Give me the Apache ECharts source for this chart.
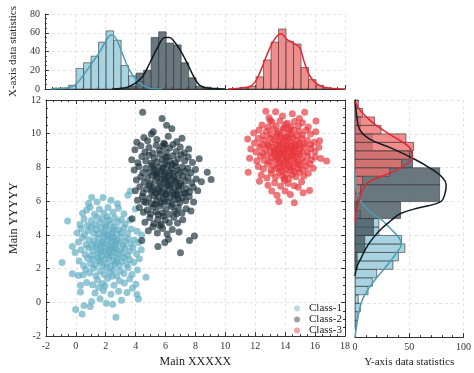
<!DOCTYPE html>
<html>
<head>
<meta charset="utf-8">
<script src="https://cdn.jsdelivr.net/npm/echarts@6/dist/echarts.min.js"></script>
<style>
  html, body { margin: 0; padding: 0; background: #fff; }
  #chart { width: 474px; height: 373px; }
</style>
</head>
<body>
<div id="chart"></div>
<script>
const classNames = ['Class-1', 'Class-2', 'Class-3'];

// scatter points [x, y]
const class1Points = [
  [-0.01,-0.43],[0.42,-0.69],[2.68,-0.88],[2.47,-0.11],[2.04,-0.05],[0.96,-0.24],[1.06,0.05],[0.55,-0.18],[1.62,0.22],[3.05,0.12],[4.19,0.2],
  [4.09,0.47],[0.31,0.62],[1.28,0.55],[1.85,0.71],[2.35,0.48],[2.86,0.66],[3.42,0.58],[3.78,0.83],[1.52,0.88],
  [0.31,1.01],[0.72,1.18],[1.12,1.05],[1.45,1.32],[1.78,1.12],[2.12,1.41],[2.55,1.02],[2.92,1.28],[3.25,1.15],[3.61,1.38],[4.02,1.07],[4.69,1.49],[1.95,0.98],
  [-0.23,1.69],[0.16,1.59],[0.48,1.62],[0.66,1.95],[0.92,1.74],[1.18,2.02],[1.35,1.58],[1.62,1.86],[1.88,1.65],[2.05,2.04],[2.28,1.77],[2.52,1.92],[2.74,1.56],[2.98,1.88],[3.22,1.71],[3.48,2.05],[3.75,1.66],[4.12,1.92],[2.42,1.55],
  [-0.92,2.36],[0.22,2.45],[0.52,2.18],[0.78,2.62],[0.98,2.31],[1.15,2.55],[1.32,2.22],[1.48,2.66],[1.65,2.38],[1.82,2.15],[1.94,2.58],[2.08,2.33],[2.22,2.68],[2.36,2.12],[2.48,2.47],[2.62,2.29],[2.78,2.61],[2.91,2.18],[3.08,2.44],[3.25,2.65],[3.41,2.25],[3.62,2.52],[3.88,2.36],[4.25,2.58],[1.58,2.48],[2.72,2.42],
  [-0.05,2.95],[0.35,3.12],[0.62,2.84],[0.85,3.22],[1.02,2.78],[1.18,3.05],[1.35,3.28],[1.46,2.88],[1.61,3.14],[1.75,2.75],[1.88,3.02],[1.98,3.25],[2.12,2.86],[2.25,3.11],[2.38,2.77],[2.45,3.29],[2.58,2.95],[2.7,3.18],[2.84,2.82],[2.96,3.08],[3.12,2.91],[3.28,3.22],[3.45,2.79],[3.6,3.05],[3.82,3.26],[4.05,2.88],[4.38,3.12],[2.18,3.02],[1.68,2.98],[2.52,3.15],
  [-0.23,3.32],[0.18,3.58],[0.45,3.85],[0.68,3.42],[0.88,3.71],[1.05,3.38],[1.22,3.66],[1.38,3.45],[1.52,3.82],[1.66,3.36],[1.8,3.61],[1.92,3.88],[2.02,3.45],[2.15,3.72],[2.28,3.35],[2.4,3.58],[2.53,3.84],[2.65,3.41],[2.77,3.68],[2.9,3.52],[3.05,3.86],[3.18,3.39],[3.32,3.62],[3.5,3.78],[3.68,3.46],[3.92,3.7],[4.2,3.55],[2.35,3.88],[1.72,3.52],[2.6,3.62],
  [0.08,4.12],[0.35,4.38],[0.58,4.02],[0.82,4.25],[1.02,4.46],[1.2,4.08],[1.36,4.32],[1.52,4.05],[1.68,4.41],[1.85,4.18],[2.0,4.48],[2.12,3.98],[2.26,4.28],[2.42,4.12],[2.58,4.45],[2.72,4.02],[2.88,4.3],[3.05,4.15],[3.22,4.42],[3.45,4.08],[3.7,4.35],[4.41,4.0],[4.1,4.22],[1.95,4.05],[2.5,4.3],
  [-0.55,4.83],[0.28,4.62],[0.55,4.95],[0.78,4.58],[1.05,4.85],[1.28,4.62],[1.45,5.05],[1.62,4.72],[1.8,4.95],[2.02,4.6],[2.2,4.88],[2.38,4.68],[2.6,5.02],[2.82,4.75],[3.05,4.92],[3.3,4.64],[3.62,4.88],[2.1,5.08],
  [0.96,5.64],[0.45,5.28],[0.72,5.48],[1.25,5.22],[1.58,5.52],[1.88,5.3],[2.15,5.62],[2.48,5.35],[2.85,5.58],[3.22,5.25],[3.98,5.54],
  [0.85,5.87],[1.06,6.22],[1.82,6.22],[1.42,5.95],[2.35,6.05],[2.78,5.85],
  [3.65,6.6],[3.48,6.35]
];
const class2Points = [
  [4.47,11.27],[5.77,10.9],[6.07,10.5],[6.42,10.3],[5.18,10.12],
  [4.08,9.49],[4.8,9.59],[7.1,9.73],[5.42,9.66],[6.18,9.85],[5.88,9.44],[6.75,9.52],[4.55,9.78],[5.05,9.98],
  [3.95,9.05],[4.35,9.28],[4.62,8.92],[4.9,9.18],[5.15,8.85],[5.38,9.32],[5.6,9.02],[5.82,9.25],[6.05,8.88],[6.28,9.15],[6.5,9.36],[6.72,8.95],[6.98,9.22],[7.25,8.86],[7.55,9.1],[5.95,9.38],
  [3.74,8.45],[4.15,8.28],[4.42,8.65],[4.68,8.38],[4.88,8.72],[5.05,8.25],[5.25,8.55],[5.45,8.32],[5.62,8.78],[5.78,8.45],[5.95,8.22],[6.1,8.62],[6.3,8.35],[6.48,8.7],[6.65,8.28],[6.85,8.52],[7.05,8.75],[7.28,8.4],[7.52,8.62],[7.8,8.3],[8.25,8.51],[6.0,8.58],
  [3.9,7.85],[4.22,8.05],[4.48,7.68],[4.7,7.95],[4.92,7.72],[5.1,8.12],[5.28,7.82],[5.42,7.62],[5.55,8.02],[5.7,7.75],[5.85,7.98],[5.98,7.65],[6.12,8.15],[6.25,7.78],[6.38,7.92],[6.52,7.66],[6.68,8.08],[6.82,7.82],[6.95,7.7],[7.12,8.02],[7.3,7.76],[7.48,7.95],[7.7,7.68],[8.0,7.88],[8.79,7.72],[5.2,7.95],[6.45,8.18],[5.78,7.88],
  [4.05,7.25],[4.35,7.45],[4.58,7.12],[4.8,7.38],[4.98,7.05],[5.12,7.52],[5.3,7.22],[5.46,7.42],[5.6,7.08],[5.72,7.32],[5.88,7.55],[6.0,7.15],[6.15,7.38],[6.28,7.02],[6.42,7.28],[6.55,7.5],[6.7,7.12],[6.85,7.35],[7.0,7.05],[7.15,7.48],[7.32,7.18],[7.5,7.4],[7.75,7.1],[8.05,7.32],[8.4,7.15],[9.05,7.28],[5.35,7.58],[6.62,7.22],[5.95,7.3],[6.2,7.52],
  [3.98,6.62],[4.28,6.85],[4.5,6.48],[4.72,6.72],[4.9,6.95],[5.05,6.55],[5.2,6.82],[5.35,6.45],[5.5,6.7],[5.65,6.92],[5.78,6.52],[5.92,6.78],[6.05,6.42],[6.2,6.65],[6.32,6.9],[6.48,6.55],[6.6,6.78],[6.75,6.44],[6.9,6.68],[7.05,6.92],[7.22,6.5],[7.4,6.75],[7.6,6.55],[7.85,6.82],[8.15,6.62],[5.58,6.58],[6.12,6.98],[6.85,6.88],[5.12,6.68],[7.3,6.45],
  [4.12,6.05],[4.45,6.28],[4.68,5.92],[4.88,6.18],[5.05,5.85],[5.22,6.32],[5.4,6.02],[5.55,6.25],[5.7,5.88],[5.85,6.15],[6.0,6.38],[6.15,5.95],[6.3,6.22],[6.45,5.82],[6.6,6.1],[6.78,6.35],[6.95,5.9],[7.12,6.2],[7.35,6.02],[7.58,6.28],[7.88,5.95],[5.3,5.82],[6.55,6.38],[5.92,5.98],[6.85,6.12],[4.55,5.98],
  [4.52,5.35],[4.25,5.62],[4.78,5.48],[5.0,5.25],[5.18,5.65],[5.38,5.38],[5.6,5.72],[5.8,5.3],[6.02,5.55],[6.22,5.22],[6.4,5.68],[6.62,5.4],[6.85,5.62],[7.1,5.3],[7.38,5.55],[7.7,5.42],[5.5,5.2],[6.75,5.25],
  [3.76,4.96],[4.62,4.75],[4.95,5.02],[5.22,4.68],[5.48,4.92],[5.72,4.62],[5.98,4.88],[6.25,4.72],[6.55,5.05],[6.8,4.7],[7.15,4.9],[5.85,5.12],
  [4.85,4.25],[5.15,4.48],[5.45,4.12],[5.8,4.38],[6.1,4.05],[6.45,4.32],[6.9,4.18],[5.6,4.55],
  [4.41,3.67],[5.49,3.32],[7.6,3.67],[7.93,3.94],[7.0,2.94],[6.2,3.75],[5.95,3.55]
];
const class3Points = [
  [12.71,11.33],[13.36,11.31],[15.3,11.27],[16.06,10.75],[13.82,11.05],[14.48,11.18],[12.92,10.95],[14.95,10.9],
  [12.45,10.52],[12.85,10.38],[13.12,10.68],[13.4,10.45],[13.65,10.75],[13.9,10.35],[14.15,10.62],[14.38,10.42],[14.62,10.72],[14.88,10.48],[15.15,10.65],[15.55,10.4],[13.0,10.78],[14.02,10.55],
  [11.9,10.05],[12.25,10.22],[12.52,9.88],[12.75,10.15],[12.98,9.95],[13.2,10.28],[13.38,9.85],[13.55,10.12],[13.72,9.92],[13.88,10.25],[14.05,9.82],[14.22,10.08],[14.4,9.95],[14.58,10.22],[14.75,9.88],[14.95,10.15],[15.15,9.92],[15.4,10.2],[15.7,9.98],[16.05,10.12],[13.45,10.02],[14.3,10.25],
  [11.49,9.69],[11.95,9.45],[12.2,9.72],[12.42,9.38],[12.62,9.62],[12.8,9.35],[12.98,9.75],[13.12,9.48],[13.28,9.65],[13.42,9.32],[13.58,9.55],[13.72,9.78],[13.85,9.42],[13.98,9.62],[14.12,9.35],[14.25,9.7],[14.38,9.5],[14.52,9.78],[14.65,9.38],[14.8,9.6],[14.95,9.45],[15.1,9.72],[15.28,9.4],[15.48,9.62],[15.72,9.35],[15.95,9.49],[16.3,9.58],[13.65,9.4],[14.05,9.78],[14.45,9.32],
  [11.7,9.1],[12.05,8.92],[12.3,9.22],[12.5,8.85],[12.7,9.08],[12.88,9.28],[13.02,8.95],[13.18,9.18],[13.32,8.82],[13.45,9.05],[13.6,9.25],[13.72,8.9],[13.85,9.12],[13.96,8.85],[14.08,9.28],[14.2,9.02],[14.32,8.88],[14.45,9.15],[14.58,8.95],[14.7,9.22],[14.85,8.82],[15.0,9.08],[15.15,8.92],[15.3,9.25],[15.5,8.88],[15.72,9.12],[15.98,8.95],[16.25,9.2],[13.55,8.98],[14.15,9.15],[13.9,9.0],[14.62,9.1],[13.25,9.02],[14.95,9.28],
  [11.62,8.55],[12.1,8.38],[12.35,8.68],[12.58,8.42],[12.78,8.72],[12.95,8.35],[13.1,8.58],[13.25,8.78],[13.38,8.45],[13.52,8.65],[13.65,8.32],[13.78,8.55],[13.9,8.75],[14.02,8.42],[14.15,8.62],[14.28,8.35],[14.4,8.7],[14.55,8.48],[14.68,8.62],[14.82,8.38],[14.98,8.75],[15.12,8.52],[15.3,8.35],[15.5,8.68],[15.75,8.45],[16.38,8.53],[16.77,8.38],[13.7,8.78],[14.1,8.5],[14.5,8.75],[13.45,8.55],[16.0,8.62],
  [12.2,8.05],[12.55,7.92],[12.82,8.2],[13.05,7.85],[13.22,8.1],[13.4,7.95],[13.58,8.25],[13.75,7.82],[13.92,8.08],[14.08,7.9],[14.22,8.18],[14.38,7.85],[14.52,8.05],[14.68,8.25],[14.85,7.92],[15.02,8.12],[15.2,7.85],[15.42,8.05],[15.65,8.22],[15.88,7.95],[13.85,8.25],[14.3,8.02],[13.65,8.0],[14.9,8.2],
  [11.53,7.72],[12.4,7.55],[12.78,7.38],[13.08,7.65],[13.35,7.42],[13.6,7.7],[13.82,7.48],[14.05,7.62],[14.25,7.35],[14.48,7.58],[14.72,7.45],[14.95,7.72],[15.25,7.5],[15.55,7.65],[13.95,7.35],[14.6,7.75],
  [12.28,7.18],[12.85,6.95],[13.3,7.1],[13.7,6.88],[14.2,7.05],[14.6,6.92],[15.1,7.15],[14.87,6.83],[13.95,7.22],
  [13.1,6.6],[14.0,6.6],[15.63,6.64],[13.58,5.98],[14.61,5.91],[14.35,6.4],[13.45,6.35],[15.2,6.5]
];

// top histogram (x direction): first bin edge, bin width, counts
const topStart = [-1.42, 3.08, 11.07];
const topWidth = [0.5, 0.5, 0.5];
const topCounts1 = [1, 1, 4, 22, 28, 35, 50, 62, 52, 25, 14, 8, 2];
const topCounts2 = [1, 3, 17, 20, 55, 61, 49, 47, 28, 12, 3, 2, 1];
const topCounts3 = [1, 3, 13, 31, 50, 64, 51, 48, 23, 10, 4, 1];

// right histogram (y direction)
const rightStart = [-1.5, 2, 5.5];
const rightWidth = [0.5, 1, 0.5];
const rightCounts1 = [1, 2, 5, 3, 12, 16, 20, 35, 40, 46, 43, 22, 22, 5, 2];
const rightCounts2 = [2, 9, 17, 42, 78, 78, 53, 16, 5, 1];
const rightCounts3 = [1, 2, 5, 7, 32, 43, 50, 54, 47, 24, 18, 7, 3];

// density curves in count units, [x, count]
const topCurve1 = [[-1.6,0],[-1.1,0.4],[-0.34,1.8],[0.09,5.4],[0.57,15],[1.06,26],[1.61,38.6],[2.1,52],[2.4,57.5],[2.7,55],[3.11,40],[3.61,21],[4.08,10],[4.62,3],[5.16,0.4],[5.8,0]];
const topCurve2 = [[2.5,0],[3,0.5],[3.5,2],[4,6],[4.5,13],[5,28],[5.5,44],[6,55],[6.3,55],[6.6,51],[7,42],[7.5,27],[7.8,17],[8.1,8],[8.4,3],[8.8,1],[9.5,0.2],[10,0]];
const topCurve3 = [[10.2,0],[10.8,0.5],[11.3,1.5],[11.74,3],[12.17,12],[12.71,33],[13.15,49],[13.5,57],[13.75,59],[14.12,53],[14.55,49],[14.98,44],[15.3,28],[15.73,12],[16.27,4],[16.7,1.5],[17.14,0.5],[18,0]];
// [count, y]
const rightCurve1 = [[0,-2],[1.8,-1.2],[4,-0.44],[7,0.24],[13,0.91],[21,1.59],[30,2.27],[39,3.04],[42.5,3.45],[42,3.7],[33,4.38],[24,4.96],[18,5.2],[10,5.64],[4.5,6.1],[1.5,6.6],[0.4,7.2],[0,7.8]];
const rightCurve2 = [[0,1.6],[1.8,2.17],[5.5,2.65],[10,3.23],[16,3.8],[24,4.38],[33,4.87],[42,5.3],[60,5.65],[79,6.0],[83,6.5],[84,7.0],[81,7.4],[71,7.9],[55,8.5],[32,9.2],[13.5,9.69],[4.3,10.26],[1.3,11.2],[0,12]];
const rightCurve3 = [[0.3,4.8],[0.8,5.2],[2,5.55],[4.1,6.13],[7.2,6.71],[11.8,7.13],[24,7.48],[39.3,7.9],[50,8.34],[53,8.73],[50,9.21],[39.3,9.69],[27,10.17],[14.7,10.75],[5.5,11.33],[0,11.9]];

const dotColors = ['#62adc2', '#1c313b', '#e8363c'];
const barColors = ['#92c9d9', '#44555e', '#ee7070'];
const lineColors = ['#4d9db3', '#0d1a20', '#e3262f'];

const chart = echarts.init(document.getElementById('chart'));

const serif = 'Liberation Serif, Times New Roman, serif';
const labelFont = { fontFamily: serif, fontSize: 10, color: '#333' };
const dashGrid = { show: true, lineStyle: { type: [3, 3], color: '#dedede', width: 0.8 } };
const axisLine = { show: true, onZero: false, lineStyle: { color: '#333', width: 1 } };
const tick = { show: true, inside: true, length: 4, lineStyle: { color: '#333' } };
const minor = (n) => ({ show: true, splitNumber: n, length: 2, lineStyle: { color: '#333' } });

function toBins(start, width, counts) {
  return counts.map((c, i) => [start + i * width, start + (i + 1) * width, c]);
}

function histSeries(name, bins, xi, yi, idx, horizontal) {
  return {
    name: name,
    type: 'custom',
    xAxisIndex: xi,
    yAxisIndex: yi,
    z: 2,
    silent: true,
    encode: horizontal ? { x: 2, y: [0, 1] } : { x: [0, 1], y: 2 },
    renderItem: function (params, api) {
      let p0, p1;
      if (horizontal) {
        p0 = api.coord([0, api.value(1)]);
        p1 = api.coord([api.value(2), api.value(0)]);
      } else {
        p0 = api.coord([api.value(0), api.value(2)]);
        p1 = api.coord([api.value(1), 0]);
      }
      return {
        type: 'rect',
        shape: { x: p0[0], y: p0[1], width: p1[0] - p0[0], height: p1[1] - p0[1] },
        style: { fill: barColors[idx], stroke: '#3c3c3c', lineWidth: 0.8, opacity: 0.8 }
      };
    },
    data: bins
  };
}

function curveSeries(name, data, xi, yi, idx) {
  return {
    name: name,
    type: 'line',
    xAxisIndex: xi,
    yAxisIndex: yi,
    z: 5,
    smooth: 0.4,
    showSymbol: false,
    silent: true,
    lineStyle: { color: lineColors[idx], width: 1.5 },
    data: data
  };
}

const topCounts = [topCounts1, topCounts2, topCounts3];
const rightCounts = [rightCounts1, rightCounts2, rightCounts3];
const topCurves = [topCurve1, topCurve2, topCurve3];
const rightCurves = [rightCurve1, rightCurve2, rightCurve3];
const points = [class1Points, class2Points, class3Points];

const series = [];
for (let i = 0; i < 3; i++) series.push(histSeries('topHist' + i, toBins(topStart[i], topWidth[i], topCounts[i]), 2, 2, i, false));
for (let i = 0; i < 3; i++) series.push(curveSeries('topKde' + i, topCurves[i], 2, 2, i));
for (let i = 0; i < 3; i++) {
  series.push({
    name: classNames[i],
    type: 'scatter',
    xAxisIndex: 0,
    yAxisIndex: 0,
    symbolSize: 7,
    itemStyle: { color: dotColors[i], opacity: 0.68 },
    data: points[i]
  });
}
for (let i = 0; i < 3; i++) series.push(histSeries('rightHist' + i, toBins(rightStart[i], rightWidth[i], rightCounts[i]), 3, 3, i, true));
for (let i = 0; i < 3; i++) series.push(curveSeries('rightKde' + i, rightCurves[i], 3, 3, i));

const option = {
  animation: false,
  backgroundColor: '#fff',
  grid: [
    { left: 36, top: 100, width: 309, height: 242 },
    { left: 36, top: 14, width: 309, height: 75 },
    { left: 355, top: 100, width: 109, height: 242 }
  ],
  legend: {
    data: classNames,
    orient: 'vertical',
    left: 289,
    top: 298,
    padding: 5,
    itemWidth: 6,
    itemHeight: 6,
    itemGap: 0,
    icon: 'circle',
    itemStyle: { opacity: 0.45 },
    textStyle: { fontFamily: serif, fontSize: 11, color: '#222', padding: [0, 0, 0, 4] }
  },
  xAxis: [
    {
      gridIndex: 0, type: 'value', min: -2, max: 18, interval: 2,
      axisLine: axisLine, axisTick: tick, minorTick: minor(4),
      axisLabel: Object.assign({ margin: 5 }, labelFont),
      splitLine: dashGrid,
      name: 'Main XXXXX', nameLocation: 'middle', nameGap: 18,
      nameTextStyle: { fontFamily: serif, fontSize: 12, color: '#222' }
    },
    {
      gridIndex: 0, type: 'value', position: 'top', min: -2, max: 18, interval: 2,
      axisLine: axisLine, axisTick: tick, minorTick: minor(4),
      axisLabel: { show: false }, splitLine: { show: false }
    },
    {
      gridIndex: 1, type: 'value', min: -2, max: 18, interval: 2,
      axisLine: axisLine, axisTick: tick, minorTick: minor(4),
      axisLabel: { show: false }, splitLine: dashGrid
    },
    {
      gridIndex: 2, type: 'value', min: 0, max: 100, interval: 50,
      axisLine: axisLine, axisTick: tick, minorTick: minor(5),
      axisLabel: Object.assign({ margin: 5 }, labelFont),
      splitLine: dashGrid,
      name: 'Y-axis data statistics', nameLocation: 'middle', nameGap: 19,
      nameTextStyle: { fontFamily: serif, fontSize: 11, color: '#222' }
    }
  ],
  yAxis: [
    {
      gridIndex: 0, type: 'value', min: -2, max: 12, interval: 2,
      axisLine: axisLine, axisTick: tick, minorTick: minor(4),
      axisLabel: Object.assign({ margin: 5 }, labelFont),
      splitLine: dashGrid,
      name: 'Main YYYYY', nameLocation: 'middle', nameGap: 10,
      nameTextStyle: { fontFamily: serif, fontSize: 12, color: '#222' }
    },
    {
      gridIndex: 0, type: 'value', position: 'right', min: -2, max: 12, interval: 2,
      axisLine: axisLine, axisTick: tick, minorTick: minor(4),
      axisLabel: { show: false }, splitLine: { show: false }
    },
    {
      gridIndex: 1, type: 'value', min: 0, max: 80, interval: 20,
      axisLine: axisLine, axisTick: tick, minorTick: minor(4),
      axisLabel: Object.assign({ margin: 5 }, labelFont),
      splitLine: dashGrid,
      name: 'X-axis data statistics', nameLocation: 'middle', nameGap: 17,
      nameTextStyle: { fontFamily: serif, fontSize: 11, color: '#222' }
    },
    {
      gridIndex: 2, type: 'value', min: -2, max: 12, interval: 2,
      axisLine: axisLine, axisTick: tick, minorTick: minor(4),
      axisLabel: { show: false }, splitLine: dashGrid
    }
  ],
  series: series
};

chart.setOption(option);
</script>
</body>
</html>
